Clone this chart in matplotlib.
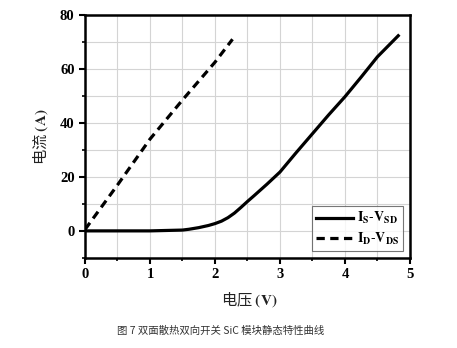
import matplotlib
matplotlib.use("Agg")
from matplotlib import pyplot as plt
from matplotlib.ticker import MultipleLocator

# curve points
vsd = [0.0, 0.5, 1.0, 1.5, 1.6, 1.75, 1.9, 2.0, 2.1, 2.2, 2.3, 2.4, 2.5, 2.6, 2.8,
       3.0, 3.25, 3.5, 3.75, 4.0, 4.25, 4.5, 4.82]
i_s = [0.0, 0.0, 0.0, 0.3, 0.6, 1.2, 2.0, 2.7, 3.6, 4.9, 6.6, 8.7, 10.9, 13.0, 17.3,
       21.8, 29.0, 36.0, 43.0, 49.7, 57.0, 64.5, 72.3]

vds = [0.0, 0.5, 1.0, 1.5, 2.0, 2.27]
i_d = [0.5, 17.0, 34.0, 48.5, 62.5, 71.0]

xticks = [0, 1, 2, 3, 4, 5]
yticks = [0, 20, 40, 60, 80]

serif = ["Liberation Serif", "DejaVu Serif"]
cjk = ["Noto Sans CJK SC", "DejaVu Sans"]
plt.rcParams["mathtext.fontset"] = "stix"

fig = plt.figure(figsize=(4.57, 3.48), dpi=100)
ax = fig.add_axes([0.186, 0.259, 0.711, 0.698])

ax.plot(vsd, i_s, color="black", lw=2.3, label=r"$\mathbf{I_S\text{-}V_{SD}}$")
ax.plot(vds, i_d, color="black", lw=2.3, ls=(0, (2.6, 1.7)), label=r"$\mathbf{I_D\text{-}V_{DS}}$")

ax.set_xlim(0, 5)
ax.set_ylim(-10, 80)
ax.set_xticks(xticks)
ax.set_yticks(yticks)
ax.xaxis.set_minor_locator(MultipleLocator(0.5))
ax.yaxis.set_minor_locator(MultipleLocator(10))
ax.grid(True, which="both", color="#d4d4d4", lw=0.8)
ax.set_axisbelow(True)

for s in ax.spines.values():
    s.set_linewidth(1.8)
ax.tick_params(which="major", direction="out", length=4, width=1.5)
ax.tick_params(which="minor", direction="out", length=2.5, width=1.2)
for lab in ax.get_xticklabels() + ax.get_yticklabels():
    lab.set_family(serif)
    lab.set_fontweight("bold")
    lab.set_fontsize(10.5)

fig.text(0.088, 0.607, r"电流 $\mathbf{(A)}$", rotation=90, ha="center", va="center",
         family=cjk, fontsize=11, color="#222222")
fig.text(0.545, 0.138, r"电压 $\mathbf{(V)}$", ha="center", va="center",
         family=cjk, fontsize=11, color="#222222")
fig.text(0.483, 0.048, "图 7 双面散热双向开关 SiC 模块静态特性曲线", ha="center", va="center",
         family=cjk, fontsize=7.5, color="#333333")

leg = ax.legend(loc="lower right", bbox_to_anchor=(1.0, 0.0), fontsize=10,
                frameon=True, fancybox=False, edgecolor="#555555",
                handlelength=2.6, borderpad=0.3, labelspacing=0.3, handletextpad=0.3)
leg.get_frame().set_linewidth(0.8)

fig.savefig("out.png", dpi=100)
